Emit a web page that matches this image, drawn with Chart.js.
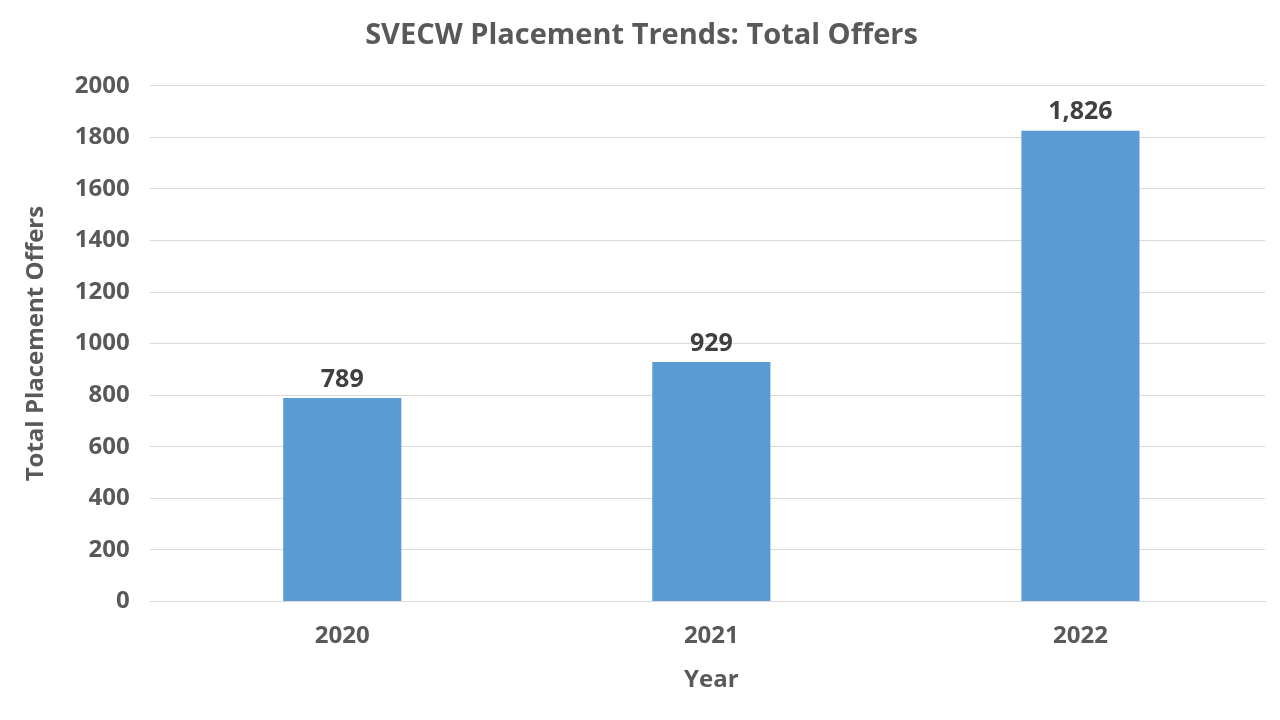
<!DOCTYPE html>
<html>
<head>
<meta charset="utf-8">
<script src="https://cdn.jsdelivr.net/npm/chart.js@4"></script>
<style>
  html, body { margin: 0; padding: 0; background: #fff; }
  #wrap { width: 1280px; height: 720px; }
</style>
</head>
<body>
<div id="wrap"><canvas id="chart"></canvas></div>
<script>
const years = ["2020", "2021", "2022"];
const offers = [789, 929, 1826];
const yTicks = [0, 200, 400, 600, 800, 1000, 1200, 1400, 1600, 1800, 2000];

const textColor = "#595959";
const fontFamily = "'Open Sans', 'Liberation Sans', sans-serif";

// draw value labels above each bar
const valueLabels = {
    id: "valueLabels",
    afterDatasetsDraw(chart) {
        const ctx = chart.ctx;
        const meta = chart.getDatasetMeta(0);
        ctx.save();
        ctx.fillStyle = "#404040";
        ctx.font = "bold 25px " + fontFamily;
        ctx.textAlign = "center";
        ctx.textBaseline = "bottom";
        meta.data.forEach((bar, i) => {
            ctx.fillText(offers[i].toLocaleString("en-US"), bar.x, bar.y - 6);
        });
        ctx.restore();
    }
};

new Chart(document.getElementById("chart"), {
    type: "bar",
    data: {
        labels: years,
        datasets: [{
            data: offers,
            backgroundColor: "#5B9BD5",
            barPercentage: 0.32,
            categoryPercentage: 1.0,
        }],
    },
    options: {
        responsive: true,
        maintainAspectRatio: false,
        animation: false,
        layout: { padding: { left: 18, right: 15, top: 8, bottom: 21 } },
        plugins: {
            legend: { display: false },
            tooltip: { enabled: false },
            title: {
                display: true,
                text: "SVECW Placement Trends: Total Offers",
                color: textColor,
                font: { family: fontFamily, size: 29, weight: "bold" },
                padding: { top: 10, bottom: 33 },
            },
        },
        scales: {
            x: {
                grid: { display: false },
                border: { color: "#d9d9d9" },
                ticks: { color: textColor, font: { family: fontFamily, size: 24, weight: "bold" }, padding: 12 },
                title: { display: true, text: "Year", color: textColor, font: { family: fontFamily, size: 24, weight: "bold" }, padding: { top: 4 } },
            },
            y: {
                min: 0,
                max: 2000,
                afterBuildTicks(axis) { axis.ticks = yTicks.map(v => ({ value: v })); },
                grid: { color: "#d9d9d9" },
                border: { display: false },
                ticks: { color: textColor, font: { family: fontFamily, size: 24, weight: "bold" }, padding: 20, callback: v => String(v) },
                title: { display: true, text: "Total Placement Offers", color: textColor, font: { family: fontFamily, size: 24, weight: "bold" } },
            },
        },
    },
    plugins: [valueLabels],
});
</script>
</body>
</html>
